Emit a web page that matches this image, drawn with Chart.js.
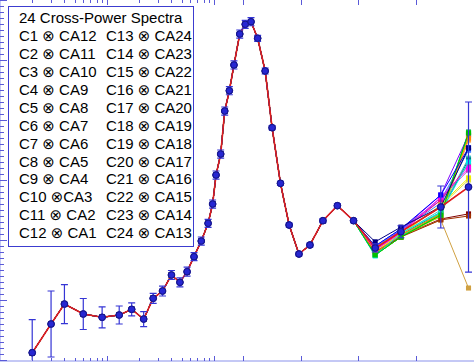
<!DOCTYPE html>
<html>
<head>
<meta charset="utf-8">
<script src="https://cdn.jsdelivr.net/npm/chart.js@4/dist/chart.umd.min.js"></script>
<style>
  html, body { margin: 0; padding: 0; background: #fff; }
  #wrap { position: relative; width: 474px; height: 362px; overflow: hidden; }
  canvas { position: absolute; left: 0; top: 0; }
  #legend { position: absolute; left: 8px; top: 6px; width: 186px; height: 241px; box-sizing: border-box;
            border: 1.5px solid #3c3cd0; background: #fff; }
  .lt { position: absolute; font-family: "Liberation Sans", Arial, "DejaVu Sans", sans-serif; font-size: 15px;
        line-height: 18px; height: 18px; color: #000; white-space: nowrap; }
</style>
</head>
<body>
<div id="wrap">
  <canvas id="c" width="474" height="362"></canvas>
  <div id="legend"></div>
</div>
<script>
// ---------------- data ----------------
// multipole bin centres
const ell = [2, 3, 4, 6, 9, 13, 17, 22, 27, 33, 40, 48, 56, 65, 76, 88, 97, 107, 123, 137, 153, 169, 189, 208,
             228, 251, 277, 301, 330, 360, 394, 432, 477, 527, 583, 658, 747, 885, 981];
// combined spectrum (red line, blue points)
const combined = [122, 600, 933, 767, 712, 750, 845, 683, 1028, 1150, 1417, 1295, 1472, 1722, 1983, 2278, 2600,
                  3083, 3433, 4150, 4488, 4917, 5433, 5595, 5638, 5362, 4817, 3872, 2945, 2250, 1767, 1917, 2322,
                  2572, 2322, 1867, 2138, 2550, 2883];
// error bars (half-width)
const combinedErr = [550, 550, 325, 258, 175, 150, 108, 125, 83, 83, 75, 75, 75, 67, 67, 67, 67, 67, 67, 67, 67,
                     67, 67, 67, 67, 50, 50, 33, 33, 33, 33, 33, 33, 33, 33, 67, 100, 350, 1417];
// the 24 individual cross spectra coincide with the combined one except in the last four bins
const sharedBins = 35;
const crossTails = [
  [1970, 2215, 2550, 3535], [1900, 2185, 2750, 3535], [1750, 2050, 2415, 3785], [1735, 2115, 2465, 3300],
  [1835, 2115, 2715, 3200], [1835, 2085, 2585, 3035], [1785, 2085, 2435, 3700], [1800, 2050, 2335, 2400],
  [1850, 2165, 2750, 3750], [1765, 2065, 2450, 3785], [1750, 2050, 2400, 3735], [1835, 2135, 2665, 3250],
  [1765, 2085, 2465, 3335], [1815, 2065, 2335, 1200], [1885, 2165, 2615, 3500], [1850, 2135, 2550, 2885],
  [1750, 2100, 2500, 3365], [1835, 2150, 2700, 3165], [1765, 2050, 2435, 3765], [1800, 2085, 2385, 3665],
  [1900, 2185, 2665, 3500], [1750, 2050, 2415, 3800], [1835, 2100, 2565, 3000], [1800, 2065, 2350, 2435]
];
const crossColors = ['#000080', '#0000ff', '#00c000', '#00e8e8', '#ff00ff', '#f0f000', '#ff8000', '#a03000',
                     '#8000ff', '#00ff80', '#80ff00', '#ff0080', '#008080', '#d0a040', '#4080ff', '#ff4040',
                     '#40c0c0', '#c040c0', '#60c000', '#ffa040', '#6060ff', '#00a040', '#e0e040', '#800000'];
const legendTitle = '24 Cross-Power Spectra';
const legendLeft = ['C1 ⊗ CA12', 'C2 ⊗ CA11', 'C3 ⊗ CA10', 'C4 ⊗ CA9', 'C5 ⊗ CA8', 'C6 ⊗ CA7', 'C7 ⊗ CA6',
                    'C8 ⊗ CA5', 'C9 ⊗ CA4', 'C10 ⊗CA3', 'C11 ⊗ CA2', 'C12 ⊗ CA1'];
const legendRight = ['C13 ⊗ CA24', 'C14 ⊗ CA23', 'C15 ⊗ CA22', 'C16 ⊗ CA21', 'C17 ⊗ CA20', 'C18 ⊗ CA19',
                     'C19 ⊗ CA18', 'C20 ⊗ CA17', 'C21 ⊗ CA16', 'C22 ⊗ CA15', 'C23 ⊗ CA14', 'C24 ⊗ CA13'];
const xMinorTicks = [2, 3, 4, 5, 6, 7, 8, 9, 20, 30, 40, 50, 60, 70, 80, 90];
const xMajorTicks = [10, 100, 200, 400, 600, 800, 1000];

// ---------------- hybrid log / linear x scale ----------------
const LOG_DECADE = 107, LIN_SLOPE = 0.2888, BREAK = 100;
function warp(l) {
  return l <= BREAK ? LOG_DECADE * Math.log10(l) : LOG_DECADE * Math.log10(BREAK) + LIN_SLOPE * (l - BREAK);
}
class HybridScale extends Chart.Scale {
  determineDataLimits() { this.min = this.options.min; this.max = this.options.max; }
  buildTicks() { return xMinorTicks.concat(xMajorTicks).sort((a, b) => a - b).map(v => ({ value: v })); }
  getLabelForValue(v) { return String(v); }
  configure() { super.configure(); this._w0 = warp(this.min); this._w1 = warp(this.max); }
  getPixelForValue(v) {
    if (v === null || v === undefined || isNaN(v)) return NaN;
    return this.getPixelForDecimal((warp(v) - this._w0) / (this._w1 - this._w0));
  }
  getValueForPixel(p) {
    const w = this._w0 + this.getDecimalForPixel(p) * (this._w1 - this._w0);
    const wb = warp(BREAK);
    return w <= wb ? Math.pow(10, w / LOG_DECADE) : BREAK + (w - wb) / LIN_SLOPE;
  }
}
HybridScale.id = 'hybrid';
HybridScale.defaults = {};
Chart.register(HybridScale);

// ---------------- legend (real text) ----------------
(function () {
  const wrap = document.getElementById('wrap');
  function put(txt, x, yc) {
    const s = document.createElement('span');
    s.className = 'lt'; s.textContent = txt;
    s.style.left = x + 'px'; s.style.top = (yc - 9) + 'px';
    wrap.appendChild(s);
  }
  put(legendTitle, 19, 18.3);
  for (let i = 0; i < 12; i++) {
    put(legendLeft[i], 19, 18.3 + 17.9 * (i + 1));
    put(legendRight[i], 106, 18.3 + 17.9 * (i + 1));
  }
})();

// ---------------- datasets ----------------
const datasets = [{
  label: 'combined',
  data: ell.map((l, i) => ({ x: l, y: combined[i] })),
  borderColor: '#e01e1e', borderWidth: 1.6,
  pointRadius: 3.4, pointStyle: 'circle',
  pointBackgroundColor: '#2626d2', pointBorderColor: '#16168a', pointBorderWidth: 1,
  tension: 0
}];
crossTails.forEach((tail, k) => {
  const ys = combined.slice(0, sharedBins).concat(tail);
  datasets.push({
    label: 'cross' + (k + 1),
    data: ell.map((l, i) => ({ x: l, y: ys[i] })),
    borderColor: crossColors[k], borderWidth: 1,
    pointRadius: 3.6, pointStyle: 'rect',
    pointBackgroundColor: crossColors[k], pointBorderColor: crossColors[k], pointBorderWidth: 0,
    tension: 0
  });
});

// ---------------- plugins ----------------
const errorBars = {
  id: 'errorBars',
  afterDatasetsDraw(chart) {
    const ctx = chart.ctx, xs = chart.scales.x, ys = chart.scales.y;
    ctx.save();
    ctx.strokeStyle = '#3535d5'; ctx.lineWidth = 1.2;
    ell.forEach((l, i) => {
      const px = xs.getPixelForValue(l);
      const y1 = ys.getPixelForValue(combined[i] + combinedErr[i]);
      const y2 = ys.getPixelForValue(combined[i] - combinedErr[i]);
      ctx.beginPath();
      ctx.moveTo(px, y1); ctx.lineTo(px, y2);
      ctx.moveTo(px - 3.5, y1); ctx.lineTo(px + 3.5, y1);
      ctx.moveTo(px - 3.5, y2); ctx.lineTo(px + 3.5, y2);
      ctx.stroke();
    });
    // redraw the combined points on top of the bars
    const meta = chart.getDatasetMeta(0);
    meta.data.forEach(pt => {
      ctx.beginPath();
      ctx.arc(pt.x, pt.y, 3.2, 0, Math.PI * 2);
      ctx.fillStyle = '#2626d2'; ctx.fill();
      ctx.strokeStyle = '#16168a'; ctx.lineWidth = 1; ctx.stroke();
    });
    ctx.restore();
  }
};
const frameTicks = {
  id: 'frameTicks',
  afterDraw(chart) {
    const ctx = chart.ctx, xs = chart.scales.x, ys = chart.scales.y, a = chart.chartArea;
    ctx.save();
    ctx.strokeStyle = '#c4c8f5'; ctx.lineWidth = 2;
    ctx.beginPath(); ctx.moveTo(a.left, a.bottom - 1); ctx.lineTo(a.right, a.bottom - 1); ctx.stroke();
    ctx.lineWidth = 1;
    ctx.beginPath(); ctx.moveTo(a.left + 0.5, a.top); ctx.lineTo(a.left + 0.5, a.bottom); ctx.stroke();
    ctx.strokeStyle = '#5a5ad8'; ctx.lineWidth = 1;
    ctx.beginPath();
    xMinorTicks.concat(xMajorTicks).forEach(v => {
      const len = xMajorTicks.includes(v) ? 5 : 3;
      const px = Math.round(xs.getPixelForValue(v)) + 0.5;
      ctx.moveTo(px, a.bottom - 1); ctx.lineTo(px, a.bottom - 1 - len);
      ctx.moveTo(px, a.top); ctx.lineTo(px, a.top + len);
    });
    for (let v = 0; v <= 6000; v += 100) {
      const len = v % 1000 === 0 ? 7 : 4;
      const py = Math.round(ys.getPixelForValue(v)) + 0.5;
      ctx.moveTo(a.left, py); ctx.lineTo(a.left + len, py);
    }
    ctx.stroke();
    ctx.restore();
  }
};

new Chart(document.getElementById('c'), {
  type: 'line',
  data: { datasets },
  options: {
    responsive: false, animation: false,
    layout: { padding: 0, autoPadding: false },
    plugins: { legend: { display: false }, tooltip: { enabled: false } },
    events: [],
    scales: {
      x: { type: 'hybrid', min: 1, max: 1000, display: false },
      y: { type: 'linear', min: -33, max: 6000, display: false }
    }
  },
  plugins: [errorBars, frameTicks]
});
</script>
</body>
</html>
